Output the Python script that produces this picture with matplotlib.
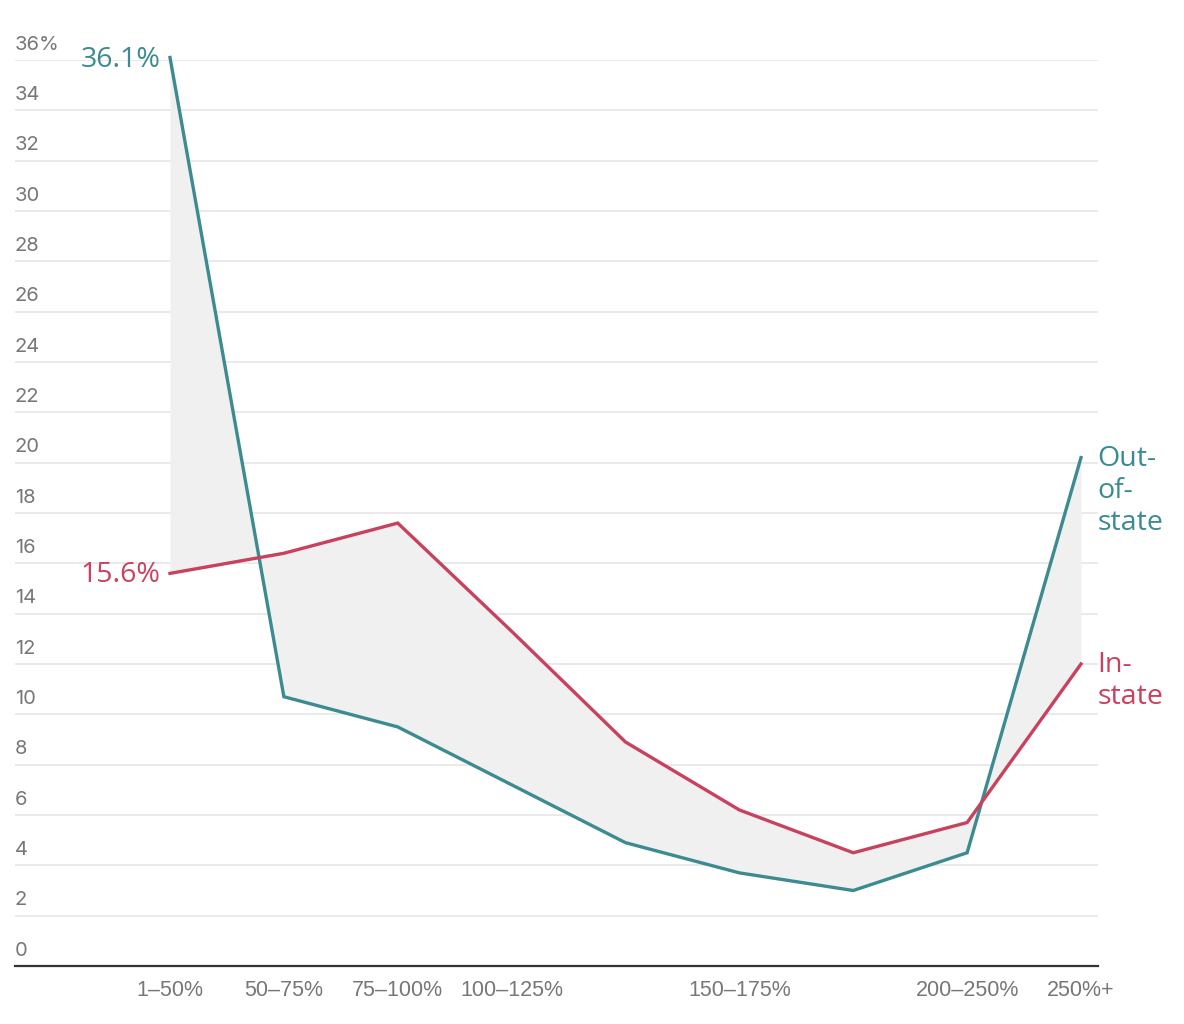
import matplotlib
matplotlib.use("Agg")
import matplotlib.pyplot as plt
import matplotlib.transforms as mtransforms
import numpy as np

categories = ["1–50%", "50–75%", "75–100%", "100–125%", "125–150%",
              "150–175%", "175–200%", "200–250%", "250%+"]
shown_labels = ["1–50%", "50–75%", "75–100%", "100–125%", "",
                "150–175%", "", "200–250%", "250%+"]
out_of_state = [36.1, 10.7, 9.5, 7.2, 4.9, 3.7, 3.0, 4.5, 20.2]
in_state = [15.6, 16.4, 17.6, 13.3, 8.9, 6.2, 4.5, 5.7, 12.0]
yticks = list(range(0, 37, 2))
ytick_labels = [str(v) for v in yticks[:-1]] + ["36%"]

TEAL = "#3b8b90"
RED = "#c8415e"
GRAY = "#777777"

W, H = 1184, 1024
fig = plt.figure(figsize=(W / 100, H / 100), dpi=100)
left, right, bottom, top = 15, 1098, 966, 60
ax = fig.add_axes([left / W, 1 - bottom / H, (right - left) / W, (bottom - top) / H])

x = np.arange(len(categories))
step = (1081 - 170) / 8
ax.set_xlim(-(170 - left) / step, 8 + (right - 1081) / step)
ax.set_ylim(0, 36)

ax.fill_between(x, out_of_state, in_state, color="#f0f0f0", lw=0, zorder=1)
for y in yticks[1:]:
    ax.axhline(y, color="#e6e6e6", lw=1.2, zorder=0)
ax.axhline(0, color="#333333", lw=1.6, zorder=3, clip_on=False)

ax.plot(x, out_of_state, color=TEAL, lw=2.4, zorder=4, clip_on=False,
        solid_joinstyle="miter")
ax.plot(x, in_state, color=RED, lw=2.4, zorder=4, clip_on=False,
        solid_joinstyle="miter")

for s in ax.spines.values():
    s.set_visible(False)
ax.set_yticks([])
ax.set_xticks(x)
ax.set_xticklabels(shown_labels, fontsize=15.5, color=GRAY,
                   family="Liberation Sans")
ax.tick_params(axis="x", length=0, pad=10)

trans = mtransforms.blended_transform_factory(ax.transAxes, ax.transData)
for v, lab in zip(yticks, ytick_labels):
    ax.annotate(lab, xy=(0, v), xycoords=trans, xytext=(0, 4.5),
                textcoords="offset points", ha="left", va="bottom",
                fontsize=14.5, color=GRAY, family="Inter",
                annotation_clip=False)

ann_font = dict(fontsize=20.5, family="Open Sans")
ax.annotate(f"{out_of_state[0]}%", xy=(x[0], out_of_state[0]), xytext=(-7, -2),
            textcoords="offset points", ha="right", va="center",
            color=TEAL, annotation_clip=False, **ann_font)
ax.annotate(f"{in_state[0]}%", xy=(x[0], in_state[0]), xytext=(-7, -1.5),
            textcoords="offset points", ha="right", va="center",
            color=RED, annotation_clip=False, **ann_font)
ax.annotate("Out-\nof-\nstate", xy=(x[-1], out_of_state[-1]), xytext=(12, 9),
            textcoords="offset points", ha="left", va="top",
            color=TEAL, linespacing=1.18, annotation_clip=False, **ann_font)
ax.annotate("In-\nstate", xy=(x[-1], in_state[-1]), xytext=(12, 9),
            textcoords="offset points", ha="left", va="top",
            color=RED, linespacing=1.18, annotation_clip=False, **ann_font)

fig.savefig("out.png", dpi=100, facecolor="white")
